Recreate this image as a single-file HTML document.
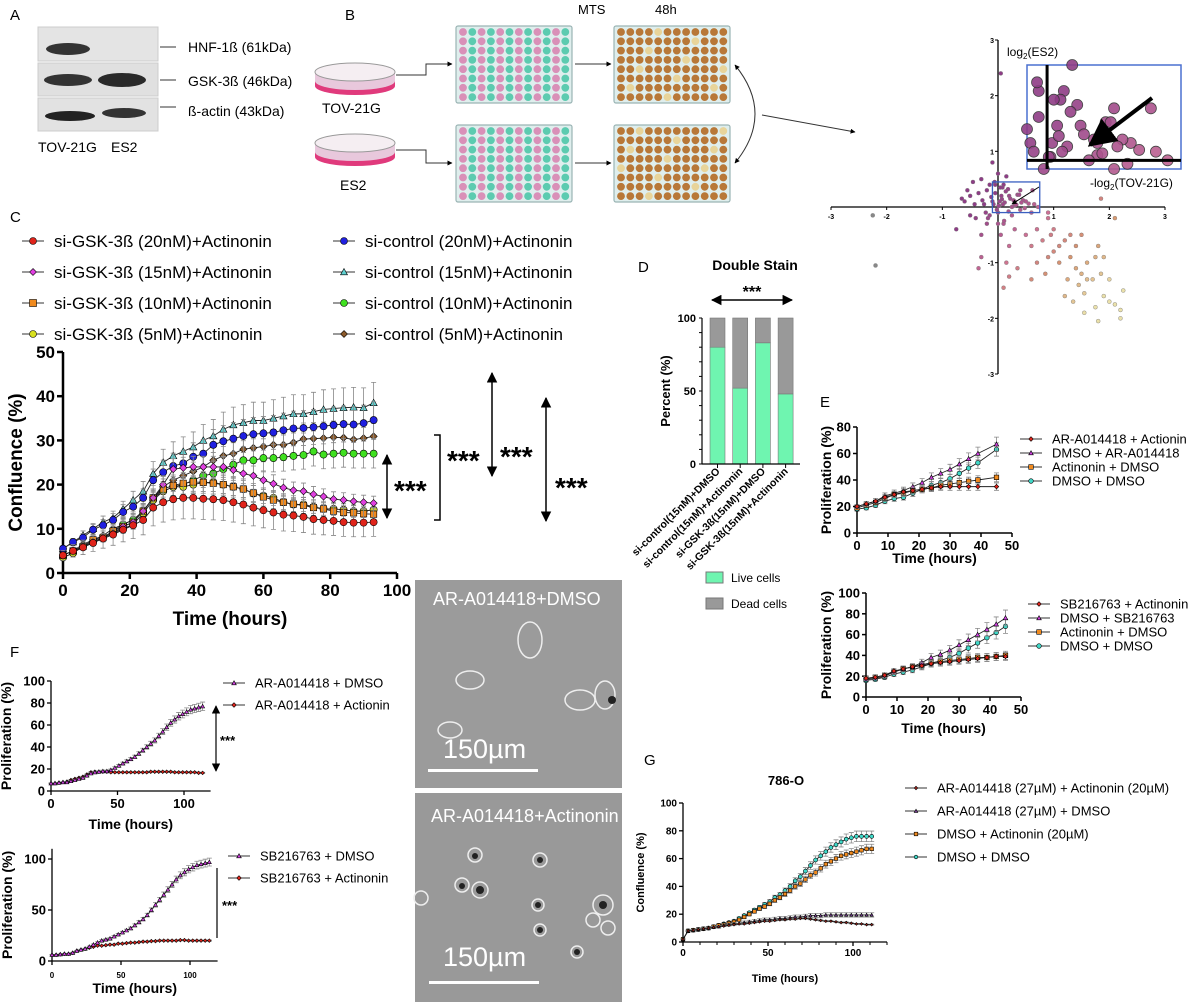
<!DOCTYPE html>
<html><head><meta charset="utf-8"><style>
html,body{margin:0;padding:0;background:#fff;}
svg{display:block;font-family:"Liberation Sans",Arial,sans-serif;}
</style></head><body>
<svg id="fig" width="1200" height="1005" viewBox="0 0 1200 1005" xmlns="http://www.w3.org/2000/svg">
<defs>
<marker id="ah" viewBox="0 0 10 10" refX="9" refY="5" markerWidth="7" markerHeight="7" orient="auto-start-reverse"><path d="M0,0L10,5L0,10z" fill="#000"/></marker>
<marker id="ahs" viewBox="0 0 10 10" refX="9" refY="5" markerWidth="5" markerHeight="5" orient="auto-start-reverse"><path d="M0,0L10,5L0,10z" fill="#000"/></marker>
</defs>
<g>
<text x="10" y="20" font-size="15">A</text>
<rect x="38" y="27" width="120" height="34" fill="#e4e4e4" stroke="#ccc"/>
<rect x="38" y="63" width="120" height="33" fill="#e0e0e0" stroke="#ccc"/>
<rect x="38" y="98" width="120" height="33" fill="#e2e2e2" stroke="#ccc"/>
<ellipse cx="68" cy="49" rx="22" ry="6" fill="#333"/>
<ellipse cx="68" cy="80" rx="24" ry="6" fill="#333"/>
<ellipse cx="122" cy="80" rx="24" ry="7" fill="#2a2a2a"/>
<ellipse cx="70" cy="116" rx="25" ry="5" fill="#222"/>
<ellipse cx="124" cy="113" rx="22" ry="5" fill="#333"/>
<line x1="160" y1="47" x2="176" y2="47" stroke="#333"/><line x1="160" y1="80" x2="176" y2="80" stroke="#333"/><line x1="160" y1="107" x2="176" y2="107" stroke="#333"/>
<text x="188" y="52" font-size="14">HNF-1ß (61kDa)</text>
<text x="188" y="86" font-size="14">GSK-3ß (46kDa)</text>
<text x="188" y="116" font-size="14">ß-actin (43kDa)</text>
<text x="38" y="152" font-size="14">TOV-21G</text><text x="111" y="152" font-size="14">ES2</text>
</g>
<g id="panelB">
<text x="345" y="20" font-size="15">B</text>
<text x="578" y="14" font-size="13">MTS</text><text x="655" y="14" font-size="13">48h</text>
<text x="322" y="113" font-size="14">TOV-21G</text><text x="340" y="190" font-size="14">ES2</text>
<path d="M396,75 H426 V64 H452" fill="none" stroke="#333" marker-end="url(#ahs)"/>
<path d="M396,150 H426 V163 H452" fill="none" stroke="#333" marker-end="url(#ahs)"/>
<line x1="575" y1="64" x2="611" y2="64" stroke="#333" marker-end="url(#ahs)"/>
<line x1="575" y1="163" x2="611" y2="163" stroke="#333" marker-end="url(#ahs)"/>
<path d="M735,65 Q775,114 735,163" fill="none" stroke="#333" marker-start="url(#ahs)" marker-end="url(#ahs)"/>
<line x1="762" y1="115" x2="855" y2="132" stroke="#333" marker-end="url(#ahs)"/>
</g>
<text x="10" y="222" font-size="15">C</text>
<text x="638" y="272" font-size="15">D</text>
<text x="820" y="407" font-size="15">E</text>
<text x="10" y="657" font-size="15">F</text>
<text x="644" y="765" font-size="15">G</text>
<g>
<rect x="415" y="580" width="207" height="208" fill="#9b9b9b"/>
<rect x="415" y="793" width="207" height="209" fill="#999"/>
<g fill="none" stroke="#eee" stroke-width="1.5">
<ellipse cx="470" cy="680" rx="14" ry="9"/><ellipse cx="530" cy="640" rx="12" ry="18"/><ellipse cx="580" cy="700" rx="15" ry="10"/><ellipse cx="605" cy="695" rx="10" ry="14"/><ellipse cx="450" cy="730" rx="12" ry="8"/>
<circle cx="475" cy="855" r="7"/><circle cx="462" cy="885" r="7"/><circle cx="480" cy="890" r="8"/><circle cx="540" cy="860" r="7"/><circle cx="538" cy="905" r="6"/><circle cx="540" cy="930" r="6"/><circle cx="603" cy="905" r="10"/><circle cx="593" cy="920" r="7"/><circle cx="608" cy="928" r="7"/><circle cx="577" cy="952" r="6"/><circle cx="421" cy="898" r="7"/>
</g>
<g fill="#222"><circle cx="475" cy="856" r="3"/><circle cx="462" cy="886" r="3"/><circle cx="480" cy="890" r="4"/><circle cx="540" cy="860" r="3"/><circle cx="538" cy="905" r="3"/><circle cx="540" cy="930" r="3"/><circle cx="603" cy="905" r="4"/><circle cx="577" cy="952" r="3"/><circle cx="612" cy="700" r="4"/></g>
<text x="433" y="605" font-size="18" fill="#fff">AR-A014418+DMSO</text>
<text x="431" y="822" font-size="18" fill="#fff">AR-A014418+Actinonin</text>
<rect x="428" y="769" width="110" height="3" fill="#fff"/><rect x="429" y="981" width="110" height="3" fill="#fff"/>
<text x="443" y="758" font-size="27" fill="#fff">150µm</text>
<text x="443" y="966" font-size="27" fill="#fff">150µm</text>
</g>
</svg>
<script>
// ---------- DATA ----------
const cStep = 3;
const cNames = ["si-GSK-3ß (20nM)+Actinonin","si-GSK-3ß (15nM)+Actinonin","si-GSK-3ß (10nM)+Actinonin","si-GSK-3ß (5nM)+Actinonin","si-control (20nM)+Actinonin","si-control (15nM)+Actinonin","si-control (10nM)+Actinonin","si-control (5nM)+Actinonin"];
const cGsk20 = [4,5,5.8,6.8,7.8,8.7,9.8,10.8,12,14.8,16,16.7,17,17,16.8,16.7,16.5,16,15.5,14.8,14.2,13.7,13.2,13,12.7,12.2,12,11.8,11.5,11.4,11.4,11.5];
const cGsk15 = [4,5,6,7,8,9,10.5,11.5,14,17,20,23.5,23.8,24,24,24,24,23.3,22.5,22,21,20.2,19.3,18.7,18.5,17.8,17.3,16.7,16.5,16.2,16,15.8];
const cGsk10 = [4,5,6,7.5,8,9.5,10.5,11.5,14,17,19,19.8,20.3,20.6,20.5,20.3,20,19.5,19,18.1,17.2,16.5,16,15.6,15.3,14.8,14.5,14,13.7,13.6,13.4,13.3];
const cGsk5 = [3.5,4.5,6,7,8,9,10,11,13.5,16.5,18.5,19.5,19.5,20,20.5,20.5,20,19.5,19,18,17.5,17,16,15.5,15.5,15,14.5,14.5,14.3,14,14,14.3];
const cCtl20 = [5.5,7,8,9.8,10.8,12,13.8,15,17,21,22.8,24.2,24.8,26.3,27,29,29.8,30.4,31,31.4,31.6,31.8,32.3,32.7,32.8,33,33.2,33.5,33.7,33.6,33.9,34.6];
const cCtl15 = [5.5,7,8.5,10,11.5,12.5,14.5,16.5,18.5,22.5,25,26.5,27.5,28.5,30,31,32.5,33.5,34,34.5,34.5,35,35.5,36,36,36.5,37,37.2,37.4,37.5,37.4,38.5];
const cCtl10 = [3.5,4.5,6,7,8,9.5,11,12,14,17,18.5,19.5,20,21,22,22.5,23.5,24.5,25.5,25.5,26,26,26.2,26.5,26.7,27.5,26.8,27,27.2,27,27,27];
const cCtl5 = [4,5,6.5,7.5,8.5,10,11,12,14,17,19.5,21,22,23,24,25.5,26.5,27,28,28.3,28.6,29,29,29.5,30.3,30.4,30.5,30.7,30.6,30.2,30.5,30.9];
const cXTicks = [0,20,40,60,80,100];
const cYTicks = [0,10,20,30,40,50];

const eStepTop = [0,3,6,9,12,15,18,21,24,27,30,33,36,39,45];
const eTopArAct = [20,22,24,27,29,31,32,33,34,35,35,35,35,35,35];
const eTopDmsoAr = [20,22,24,28,30,32,35,38,42,45,48,52,56,60,67];
const eTopActDmso = [19,21,23,26,29,30,32,33,34,36,37,38,39,40,42];
const eTopDmsoDmso = [18,19,21,24,26,27,30,33,36,38,41,45,49,53,63];
const eBotTimes = [0,3,6,9,12,15,18,21,24,27,30,33,36,39,42,45];
const eBotSbAct = [18,19,21,25,27,29,30,32,33,34,35,36,37,38,39,39];
const eBotDmsoSb = [17,18,20,24,27,29,33,38,41,45,50,55,60,65,70,76];
const eBotActDmso = [18,19,21,24,27,29,31,33,34,35,36,37,38,38,39,40];
const eBotDmsoDmso = [16,17,19,22,24,26,29,32,35,38,42,47,52,57,62,68];
const eXTicks = [0,10,20,30,40,50];
const eTopYTicks = [0,20,40,60,80];
const eBotYTicks = [0,20,40,60,80,100];

const fStep = 3;
const fTopArDmso = [7,7,7.5,8,8,9,10,11,12,14,16,17,17.5,18,18,19,21,23,25,27,29,31,34,37,40,43,46,50,54,58,62,65,68,70,72,74,75,76,77];
const fTopArAct = [7,7,7.5,8,8.5,10,11,12,13,15,17,17.5,17.5,17.5,17.5,17,17,17,17,17,17,17,17,17,17,17.5,17.5,17.5,17.5,17.5,17.5,17,17,17,17,17,17,16.5,16.5];
const fBotSbDmso = [6,6,6.5,7,7,8,10,11,12,14,16,18,20,21,22,24,26,28,30,32,35,38,41,45,50,55,60,65,70,75,80,84,87,90,92,94,95,96,97];
const fBotSbAct = [6,6,6.5,7,7,8,10,11,12,13,14,15,15,15.5,16,16,17,17,17.5,18,18,18.5,19,19,19.5,19.5,20,20,20,20,20,20.5,20.5,20,20,20,20,20,20];
const fXTicks = [0,50,100];
const fTopYTicks = [0,20,40,60,80,100];
const fBotYTicks = [0,50,100];

const gStep = 3;
const gArAct = [2,8,8.5,9,9.5,10,10.5,11,11.5,12,12.5,13,13,13.5,14,14.5,15,15,15.5,16,16,16.5,16.5,17,17,16.5,16,15.5,15,15,14.5,14,14,13.5,13,13,12.5,12.5];
const gArDmso = [2,8,8.5,9,9.5,10,10.5,11,12,12.5,13,13.5,14,14.5,15,15.5,16,16,16.5,17,17,17.5,18,18,18.5,19,19,19,19.5,19.5,19.5,19.5,19.5,19.5,19.5,19.5,19.5,19.5];
const gDmsoAct = [2,8,8.5,9,9.5,10,11,12,12.5,13.5,14.5,16,18,20,22,24,25.5,27.5,30,32,34.5,37,40,42,45,48,50,53,56,58,60,62,63,64,65,66,67,67];
const gDmsoDmso = [2,8,8.5,9,9.5,10,11,12,13,14,15,17,19,21,23,25,27,29,32,34,37,40,44,47,51,55,59,62,65,68,70,72,74,75,76,76,76,76];
const gXTicks = [0,50,100];
const gYTicks = [0,20,40,60,80,100];

const dCategories = ["si-control(15nM)+DMSO","si-control(15nM)+Actinonin","si-GSK-3ß(15nM)+DMSO","si-GSK-3ß(15nM)+Actinonin"];
const dLive = [80,52,83,48];
const dDead = [20,48,17,52];
const dYTicks = [0,50,100];

const sX = [-0.3,-0.5,-0.2,0,0.1,-0.1,0.2,-0.4,-0.2,0,0.1,0.3,0.4,0.5,0.6,-0.6,-0.75,-0.3,0.05,0.2,0.3,-0.1,0.05,-0.3,-0.35,0.15,0.2,0.35,0.1,0.5,0.6,0.7,0.8,0.9,0.95,1.0,1.1,0.7,0.85,0.6,0.9,1.0,1.1,1.2,1.3,1.4,1.5,1.3,1.4,1.25,1.5,1.6,1.45,1.2,1.35,1.55,1.6,1.7,1.75,1.8,1.9,1.85,1.9,2.0,2.1,2.2,2.25,2.2,1.8,1.55,2.0,1.75,1.85,2.1,0.9,0.4,0.25,-0.15,-0.45,-0.05,0.15,-0.25,0.02,0.12,0.3,0.45,0.55,0.08,-0.05,0.22,0.35,0.65,-0.55,-0.65,-0.35,-0.12,-0.08,0.03,0.06,0.18,0.28,0.38,-0.22,-0.42,-0.18,0.01,0.04,0.09,0.14,-0.02,-0.06,0.25,0.33,0.48,-0.28,-0.5,0.0,0.11,0.07,0.19,-0.15,0.42,0.62,0.72,-2.25,-2.2];
const sY = [0.5,0.2,0.3,0.6,0.4,0.1,0.2,-0.2,-0.3,-0.1,-0.3,0.1,0.3,0.1,-0.1,0.1,-0.4,-0.5,-0.5,-0.7,-0.4,0.8,2.4,-0.9,-1.1,-1.0,-1.25,-1.1,-1.45,-0.5,-0.7,-0.4,-0.6,-0.2,-0.5,-0.4,-0.7,-1.0,-1.2,-1.3,-0.9,-0.8,-1.0,-0.6,-0.5,-0.7,-0.5,-0.9,-1.1,-1.3,-1.2,-1.0,-1.4,-1.6,-1.7,-1.55,-1.3,-1.3,-0.9,-0.7,-0.9,-1.2,-1.6,-1.7,-1.75,-1.85,-1.5,-2.0,-2.05,-1.9,-1.3,-1.8,0.15,-0.2,-0.1,-0.05,-0.15,-0.15,0.45,0.25,0.55,0.05,0.02,0.08,0.03,0.12,0.06,0.35,0.4,0.15,0.22,0.05,0.3,0.15,0.25,0.18,0.05,0.1,0.2,0.32,0.12,0.22,-0.1,0.05,-0.2,0.02,0.35,0.05,0.28,-0.05,0.45,0.0,0.04,-0.02,0.12,-0.15,-0.3,-0.25,0.14,-0.08,0.4,0.08,0.3,0.0,-0.15,-1.05];
const sTicks = [-3,-2,-1,1,2,3];

// ---------- DRAWING ----------
const NS = "http://www.w3.org/2000/svg";
const svg = document.getElementById('fig');
function mk(tag, at, parent){ const e=document.createElementNS(NS,tag); for(const k in at) e.setAttribute(k,at[k]); (parent||svg).appendChild(e); return e; }
function lin(d0,d1,p0,p1){ return v => p0+(v-d0)*(p1-p0)/(d1-d0); }

function marker(g, shape, x, y, s, color){
  let el;
  if(shape==='tri') el = mk('path',{d:`M${x},${y-s}L${x+s},${y+s*0.8}L${x-s},${y+s*0.8}Z`,fill:color,stroke:'#000','stroke-width':0.6},g);
  else if(shape==='sq') el = mk('rect',{x:x-s,y:y-s,width:2*s,height:2*s,fill:color,stroke:'#000','stroke-width':0.6},g);
  else if(shape==='dia') el = mk('path',{d:`M${x},${y-s}L${x+s},${y}L${x},${y+s}L${x-s},${y}Z`,fill:color,stroke:'#000','stroke-width':0.6},g);
  else el = mk('circle',{cx:x,cy:y,r:s,fill:color,stroke:'#000','stroke-width':0.6},g);
  return el;
}

function axes(g, sx, sy, xt, yt, xr, yr, o){
  const xa = mk('line',{x1:sx(xr[0]),x2:sx(xr[1]),y1:sy(yr[0]),y2:sy(yr[0]),stroke:'#000','stroke-width':o.aw},g);
  
  
  const ya = mk('line',{x1:sx(xr[0]),x2:sx(xr[0]),y1:sy(yr[0]),y2:sy(yr[1]),stroke:'#000','stroke-width':o.aw},g);
  
  
  xt.forEach(v=>{
    mk('line',{x1:sx(v),x2:sx(v),y1:sy(yr[0]),y2:sy(yr[0])+o.tl,stroke:'#000','stroke-width':o.aw},g);
    const t = mk('text',{x:sx(v),y:sy(yr[0])+o.tl+o.fs,'font-size':o.xfs||o.fs,'font-weight':'bold','text-anchor':'middle'},g);
    t.textContent = v;
    
    
  });
  yt.forEach(v=>{
    mk('line',{x1:sx(xr[0])-o.tl,x2:sx(xr[0]),y1:sy(v),y2:sy(v),stroke:'#000','stroke-width':o.aw},g);
    const t = mk('text',{x:sx(xr[0])-o.tl-2,y:sy(v)+o.fs*0.35,'font-size':o.fs,'font-weight':'bold','text-anchor':'end'},g);
    t.textContent = v;
    
    
  });
  const xl = mk('text',{x:(sx(xr[0])+sx(xr[1]))/2,y:o.xly,'font-size':o.lfs,'font-weight':'bold','text-anchor':'middle'},g);
  xl.textContent = o.xlabel;
  
  
  const cy = (sy(yr[0])+sy(yr[1]))/2;
  const yl = mk('text',{x:o.ylx,y:cy,'font-size':o.lfs,'font-weight':'bold','text-anchor':'middle',transform:`rotate(-90 ${o.ylx} ${cy})`},g);
  yl.textContent = o.ylabel;
  
  
}

function series(g, sx, sy, times, vals, color, shape, ms, errFrac, name){
  const sg = mk('g',{},g);
  
  
  let d='';
  vals.forEach((v,i)=>{ d += (i?'L':'M')+sx(times(i))+','+sy(v); });
  vals.forEach((v,i)=>{
    const e = v*errFrac; const x=sx(times(i));
    if(e>0){ mk('path',{d:`M${x},${sy(v-e)}V${sy(v+e)}M${x-2.5},${sy(v+e)}H${x+2.5}M${x-2.5},${sy(v-e)}H${x+2.5}`,stroke:'#888','stroke-width':0.8,fill:'none'},sg); }
  });
  mk('path',{d:d,fill:'none',stroke:'#222','stroke-width':0.9},sg);
  vals.forEach((v,i)=>{ const m = marker(sg, shape, sx(times(i)), sy(v), ms, color);   });
}

function legendEntry(g, x, y, shape, color, label, fs, ms){
  const lg = mk('g',{},g);
  
  
  mk('line',{x1:x,x2:x+22,y1:y,y2:y,stroke:'#333','stroke-width':1},lg);
  marker(lg, shape, x+11, y, ms, color);
  const t = mk('text',{x:x+32,y:y+fs*0.36,'font-size':fs},lg);
  t.textContent = label;
}

// ---- Panel C ----
(function(){
  const g = mk('g',{});  
  const sx = lin(0,100,63,397), sy = lin(0,50,573,352);
  axes(g,sx,sy,cXTicks,cYTicks,[0,100],[0,50],{aw:2.5,tl:6,fs:17,lfs:19,xly:625,ylx:22,xlabel:'Time (hours)',ylabel:'Confluence (%)'});
  const cols = ['#e0241b','#e040e0','#f08a1e','#d8e020','#2020e0','#60d0d0','#40e020','#8b5a2b'];
  const shapes = ['c','dia','sq','c','c','tri','c','dia'];
  const data = [cGsk20,cGsk15,cGsk10,cGsk5,cCtl20,cCtl15,cCtl10,cCtl5];
  const errs = [0.28,0.1,0.12,0.1,0.12,0.12,0.12,0.12];
  [7,6,5,4,3,2,1,0].forEach(k=>series(g,sx,sy,i=>i*cStep,data[k],cols[k],shapes[k],shapes[k]==='sq'?3.2:3.6,errs[k],'series-'+k));
  const lg = mk('g',{});  
  cNames.forEach((n,i)=>{ const col=Math.floor(i/4), row=i%4; legendEntry(lg, col?333:22, 241+row*31, shapes[i], cols[i], n, 17, 3.5); });
  const sg = mk('g',{});  
  mk('line',{x1:387,x2:387,y1:455,y2:518,stroke:'#000','stroke-width':1.5,'marker-start':'url(#ah)','marker-end':'url(#ah)'},sg);
  mk('path',{d:'M434,435H440V520H434',fill:'none',stroke:'#000','stroke-width':1.5},sg);
  mk('line',{x1:492,x2:492,y1:373,y2:476,stroke:'#000','stroke-width':1.5,'marker-start':'url(#ah)','marker-end':'url(#ah)'},sg);
  mk('line',{x1:546,x2:546,y1:398,y2:521,stroke:'#000','stroke-width':1.5,'marker-start':'url(#ah)','marker-end':'url(#ah)'},sg);
  [[394,500],[447,470],[500,466],[555,497]].forEach(p=>{ const t=mk('text',{x:p[0],y:p[1],'font-size':28,'font-weight':'bold'},sg); t.textContent='***'; });
})();

// ---- Panel D ----
(function(){
  const g = mk('g',{});  
  const sy = lin(0,100,464,318);
  const bx = i => 717.5 + i*22.7;
  const t0 = mk('text',{x:755,y:270,'font-size':14,'font-weight':'bold','text-anchor':'middle'},g); t0.textContent='Double Stain';
  
  mk('line',{x1:712,x2:792,y1:300,y2:300,stroke:'#000','stroke-width':1.5,'marker-start':'url(#ah)','marker-end':'url(#ah)'},g);
  const st = mk('text',{x:752,y:297,'font-size':16,'font-weight':'bold','text-anchor':'middle'},g); st.textContent='***';
  dCategories.forEach((c,i)=>{
    const l = mk('rect',{x:bx(i)-7.5,y:sy(dLive[i]),width:15,height:sy(0)-sy(dLive[i]),fill:'#6ff5b0',stroke:'#777','stroke-width':0.6},g);
    
    
    const d = mk('rect',{x:bx(i)-7.5,y:sy(dLive[i]+dDead[i]),width:15,height:sy(dLive[i])-sy(dLive[i]+dDead[i]),fill:'#999',stroke:'#777','stroke-width':0.6},g);
    
    
    mk('line',{x1:bx(i),x2:bx(i),y1:464,y2:468,stroke:'#000'},g);
    const t = mk('text',{x:bx(i)+3,y:472,'font-size':10.5,'font-weight':'bold','text-anchor':'end',transform:`rotate(-45 ${bx(i)+3} 472)`},g);
    t.textContent = c;
    
    
  });
  mk('line',{x1:702,x2:800,y1:464,y2:464,stroke:'#000','stroke-width':1.2},g);
  mk('line',{x1:702,x2:702,y1:318,y2:464,stroke:'#000','stroke-width':1.2},g);
  for(let v=0; v<=100; v+=10) mk('line',{x1:699,x2:702,y1:sy(v),y2:sy(v),stroke:'#000'},g);
  dYTicks.forEach(v=>{ const t=mk('text',{x:696,y:sy(v)+4,'font-size':11,'font-weight':'bold','text-anchor':'end'},g); t.textContent=v;   });
  const yl = mk('text',{x:670,y:391,'font-size':13,'font-weight':'bold','text-anchor':'middle',transform:'rotate(-90 670 391)'},g); yl.textContent='Percent (%)';
  
  mk('rect',{x:706,y:572,width:17,height:11,fill:'#6ff5b0',stroke:'#777'},g);
  mk('rect',{x:706,y:598,width:17,height:11,fill:'#999',stroke:'#777'},g);
  const l1=mk('text',{x:731,y:582,'font-size':12},g); l1.textContent='Live cells'; 
  const l2=mk('text',{x:731,y:608,'font-size':12},g); l2.textContent='Dead cells'; 
})();

// ---- Panel E ----
(function(){
  const names1=['AR-A014418 + Actionin','DMSO + AR-A014418','Actinonin + DMSO','DMSO + DMSO'];
  const names2=['SB216763 + Actinonin','DMSO + SB216763','Actinonin + DMSO','DMSO + DMSO'];
  const cols=['#e0241b','#d040e0','#f08a1e','#40d8c8'], shapes=['dia','tri','sq','c'];
  const g1 = mk('g',{});  
  let sx = lin(0,50,857,1012), sy = lin(0,80,533,427);
  axes(g1,sx,sy,eXTicks,eTopYTicks,[0,50],[0,80],{aw:1.5,tl:4,fs:13,lfs:14,xly:563,ylx:831,xlabel:'Time (hours)',ylabel:'Proliferation (%)'});
  [eTopDmsoDmso,eTopActDmso,eTopDmsoAr,eTopArAct].forEach((d,j)=>{ const k=3-j; series(g1,sx,sy,i=>eStepTop[i],d,cols[k],shapes[k],2.3,0.08,'e-top-series-'+k); });
  names1.forEach((n,i)=>legendEntry(g1,1020,439+i*14,shapes[i],cols[i],n,13,2.3));
  const g2 = mk('g',{});  
  sx = lin(0,50,866,1021); sy = lin(0,100,697,593);
  axes(g2,sx,sy,eXTicks,eBotYTicks,[0,50],[0,100],{aw:1.5,tl:4,fs:13,lfs:14,xly:733,ylx:831,xlabel:'Time (hours)',ylabel:'Proliferation (%)'});
  [eBotDmsoDmso,eBotActDmso,eBotDmsoSb,eBotSbAct].forEach((d,j)=>{ const k=3-j; series(g2,sx,sy,i=>eBotTimes[i],d,cols[k],shapes[k],2.3,0.1,'e-bottom-series-'+k); });
  names2.forEach((n,i)=>legendEntry(g2,1028,604+i*14,shapes[i],cols[i],n,13,2.3));
})();

// ---- Panel F ----
(function(){
  const g1 = mk('g',{});  
  let sx = lin(0,100,51,184), sy = lin(0,100,791,681);
  axes(g1,sx,sy,fXTicks,fTopYTicks,[0,120],[0,100],{aw:1.3,tl:4,fs:13,lfs:14,xly:829,ylx:11,xlabel:'Time (hours)',ylabel:'Proliferation (%)'});
  series(g1,sx,sy,i=>i*fStep,fTopArAct,'#e0241b','dia',1.8,0.03,'f-top-ar-actinonin');
  series(g1,sx,sy,i=>i*fStep,fTopArDmso,'#d040e0','tri',2,0.05,'f-top-ar-dmso');
  legendEntry(g1,223,683,'tri','#d040e0','AR-A014418 + DMSO',13,2.3);
  legendEntry(g1,223,705,'dia','#e0241b','AR-A014418 + Actionin',13,2.3);
  mk('line',{x1:216,x2:216,y1:706,y2:771,stroke:'#000','stroke-width':1.2,'marker-start':'url(#ah)','marker-end':'url(#ah)'},g1);
  const s1=mk('text',{x:220,y:745,'font-size':13,'font-weight':'bold'},g1); s1.textContent='***';
  const g2 = mk('g',{});  
  sx = lin(0,100,52,190); sy = lin(0,100,961,859);
  axes(g2,sx,sy,fXTicks,fBotYTicks,[0,120],[0,110],{aw:1.3,tl:4,fs:13,xfs:8,lfs:14,xly:993,ylx:12,xlabel:'Time (hours)',ylabel:'Proliferation (%)'});
  series(g2,sx,sy,i=>i*fStep,fBotSbAct,'#e0241b','dia',1.8,0.03,'f-bottom-sb-actinonin');
  series(g2,sx,sy,i=>i*fStep,fBotSbDmso,'#d040e0','tri',2,0.04,'f-bottom-sb-dmso');
  legendEntry(g2,228,856,'tri','#d040e0','SB216763 + DMSO',13,2.3);
  legendEntry(g2,228,878,'dia','#e0241b','SB216763 + Actinonin',13,2.3);
  mk('line',{x1:217,x2:217,y1:868,y2:938,stroke:'#000','stroke-width':1.2},g2);
  const s2=mk('text',{x:222,y:910,'font-size':13,'font-weight':'bold'},g2); s2.textContent='***';
})();

// ---- Panel G ----
(function(){
  const g = mk('g',{});  
  const sx = lin(0,100,683,853), sy = lin(0,100,942,803);
  axes(g,sx,sy,gXTicks,gYTicks,[0,120],[0,100],{aw:1.3,tl:4,fs:10,lfs:11,xly:982,ylx:644,xlabel:'Time (hours)',ylabel:'Confluence (%)'});
  for(let v=0; v<=120; v+=10) mk('line',{x1:sx(v),x2:sx(v),y1:942,y2:945,stroke:'#000'},g);
  const tt = mk('text',{x:786,y:785,'font-size':13,'font-weight':'bold','text-anchor':'middle'},g); tt.textContent='786-O';
  
  const cols=['#a0241b','#8040a0','#f08a1e','#40d8c8'], shapes=['dia','tri','sq','c'];
  series(g,sx,sy,i=>i*gStep,gDmsoDmso,cols[3],'c',2,0.05,'g-dmso-dmso');
  series(g,sx,sy,i=>i*gStep,gDmsoAct,cols[2],'sq',1.8,0.05,'g-dmso-actinonin');
  series(g,sx,sy,i=>i*gStep,gArDmso,cols[1],'tri',1.6,0.08,'g-ar-dmso');
  series(g,sx,sy,i=>i*gStep,gArAct,cols[0],'dia',1.4,0.03,'g-ar-actinonin');
  ['AR-A014418  (27µM) + Actinonin (20µM)','AR-A014418  (27µM) + DMSO','DMSO + Actinonin (20µM)','DMSO + DMSO'].forEach((n,i)=>legendEntry(g,905,788+i*23,shapes[i],cols[i],n,13,1.8));
})();

// ---- Scatter ----
(function(){
  const g = mk('g',{});  
  const sx = lin(-3,3,831,1165), sy = lin(-3,3,374,40);
  mk('line',{x1:sx(-3),x2:sx(3),y1:sy(0),y2:sy(0),stroke:'#000','stroke-width':1.3},g);
  mk('line',{x1:sx(0),x2:sx(0),y1:sy(-3),y2:sy(3),stroke:'#000','stroke-width':1.3},g);
  sTicks.forEach(v=>{
    mk('line',{x1:sx(v),x2:sx(v),y1:sy(0),y2:sy(0)+3,stroke:'#000'},g);
    const t=mk('text',{x:sx(v),y:sy(0)+12,'font-size':7,'font-weight':'bold','text-anchor':'middle'},g); t.textContent=v;
    mk('line',{x1:sx(0)-3,x2:sx(0),y1:sy(v),y2:sy(v),stroke:'#000'},g);
    const u=mk('text',{x:sx(0)-4,y:sy(v)+3,'font-size':7,'font-weight':'bold','text-anchor':'end'},g); u.textContent=v;
  });
  const col = (x,y)=>{ if(x<-1.5) return '#888';
    const t=Math.max(0,Math.min(1,(x-y+0.3)/3.8));
    const stops=[[142,60,134],[205,110,150],[216,150,110],[235,225,170]];
    const p=t*3, k=Math.min(2,Math.floor(p)), f=p-k;
    const c=stops[k].map((v,j)=>Math.round(v+(stops[k+1][j]-v)*f)); return `rgb(${c})`; };
  sX.forEach((x,i)=>{ const c=mk('circle',{cx:sx(x),cy:sy(sY[i]),r:2,fill:col(x,sY[i]),stroke:'#777','stroke-width':0.4},g);   });
  mk('rect',{x:sx(-0.1),y:sy(0.45),width:sx(0.75)-sx(-0.1),height:sy(-0.1)-sy(0.45),fill:'none',stroke:'#3a5fc0','stroke-width':1.3},g);
  mk('line',{x1:1039,y1:187,x2:1012,y2:204,stroke:'#000','marker-end':'url(#ahs)'},g);
  const ix = lin(-0.12,0.8,1027,1181), iy = lin(0.55,-0.05,65,169);
  mk('rect',{x:1027,y:65,width:154,height:104,fill:'#fff',stroke:'#4a70d0','stroke-width':1.5},g);
  sX.forEach((x,i)=>{ const y=sY[i]; if(x>=-0.12&&x<=0.8&&y>=-0.05&&y<=0.55){ const c=mk('circle',{cx:ix(x),cy:iy(y),r:5.5,fill:col(x,y),stroke:'#333','stroke-width':0.8,opacity:0.9},g);   } });
  mk('line',{x1:ix(0),x2:ix(0),y1:65,y2:169,stroke:'#000','stroke-width':3},g);
  mk('line',{x1:1027,x2:1181,y1:iy(0),y2:iy(0),stroke:'#000','stroke-width':3},g);
  mk('line',{x1:1152,y1:98,x2:1090,y2:145,stroke:'#000','stroke-width':4,'marker-end':'url(#ah)'},g);
  const a=mk('text',{x:1007,y:56,'font-size':12},g); a.innerHTML='log<tspan font-size="8" dy="3">2</tspan><tspan dy="-3">(ES2)</tspan>';
  
  const b=mk('text',{x:1090,y:187,'font-size':12},g); b.innerHTML='-log<tspan font-size="8" dy="3">2</tspan><tspan dy="-3">(TOV-21G)</tspan>';
  
})();

// ---- Panel B dishes and plates ----
(function(){
  const g = document.getElementById('panelB');
  [[62],[133]].forEach((p,k)=>{
    const y=p[0];
    const d = mk('g',{},g);
    
    
    mk('path',{d:`M315,${y+10}V${y+24}A40,9 0 0 0 395,${y+24}V${y+10}`,fill:'#e03a7c'},d);
    mk('path',{d:`M315,${y+10}V${y+19}A40,9 0 0 0 395,${y+19}V${y+10}`,fill:'#e8c8dc'},d);
    mk('ellipse',{cx:355,cy:y+10,rx:40,ry:9,fill:'#f5eef2',stroke:'#999'},d);
  });
  const plate=(x,y,brown,tag)=>{
    const pg=mk('g',{},g);
    
    
    mk('rect',{x:x,y:y,width:116,height:77,fill:'#dfeeed',stroke:'#9ab4b4','stroke-width':1.2,rx:2},pg);
    for(let r=0;r<8;r++) for(let c=0;c<12;c++){
      let f;
      if(brown) f = ((r*7+c*5+(tag.length))%9===0)?'#e8d49a':'#b87838';
      else f = (c%2===0)?'#d990b8':'#5ccbb0';
      mk('circle',{cx:x+7+c*9.3,cy:y+6+r*9.3,r:3.9,fill:f},pg);
    }
  };
  plate(456,26,false,'plate-tov21g'); plate(456,125,false,'plate-es2');
  plate(614,26,true,'plate-tov21g-mts'); plate(614,125,true,'plate-es2-mts-48h');
})();
</script>
</body></html>
